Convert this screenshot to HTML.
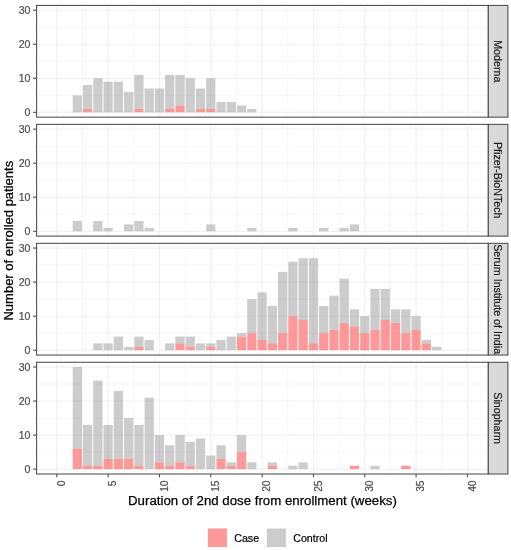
<!DOCTYPE html>
<html lang="en"><head><meta charset="utf-8"><title>Enrolled patients by duration of 2nd dose</title>
<style>html,body{margin:0;padding:0;background:#fff}svg{display:block}</style></head>
<body>
<svg width="511" height="550" viewBox="0 0 511 550" font-family="'Liberation Sans', Arial, sans-serif">
<rect width="511" height="550" fill="#fff"/>
<g>
<rect x="36.6" y="5.4" width="451.7" height="111.75" fill="#fff"/>
<line x1="36.6" x2="488.3" y1="95.28" y2="95.28" stroke="#ebebeb" stroke-width="0.45"/>
<line x1="36.6" x2="488.3" y1="61.23" y2="61.23" stroke="#ebebeb" stroke-width="0.45"/>
<line x1="36.6" x2="488.3" y1="27.18" y2="27.18" stroke="#ebebeb" stroke-width="0.45"/>
<line x1="82.46" x2="82.46" y1="5.4" y2="117.15" stroke="#ebebeb" stroke-width="0.45"/>
<line x1="133.79" x2="133.79" y1="5.4" y2="117.15" stroke="#ebebeb" stroke-width="0.45"/>
<line x1="185.11" x2="185.11" y1="5.4" y2="117.15" stroke="#ebebeb" stroke-width="0.45"/>
<line x1="236.44" x2="236.44" y1="5.4" y2="117.15" stroke="#ebebeb" stroke-width="0.45"/>
<line x1="287.76" x2="287.76" y1="5.4" y2="117.15" stroke="#ebebeb" stroke-width="0.45"/>
<line x1="339.09" x2="339.09" y1="5.4" y2="117.15" stroke="#ebebeb" stroke-width="0.45"/>
<line x1="390.41" x2="390.41" y1="5.4" y2="117.15" stroke="#ebebeb" stroke-width="0.45"/>
<line x1="441.74" x2="441.74" y1="5.4" y2="117.15" stroke="#ebebeb" stroke-width="0.45"/>
<line x1="36.6" x2="488.3" y1="112.3" y2="112.3" stroke="#ebebeb" stroke-width="0.8"/>
<line x1="36.6" x2="488.3" y1="78.25" y2="78.25" stroke="#ebebeb" stroke-width="0.8"/>
<line x1="36.6" x2="488.3" y1="44.2" y2="44.2" stroke="#ebebeb" stroke-width="0.8"/>
<line x1="36.6" x2="488.3" y1="10.15" y2="10.15" stroke="#ebebeb" stroke-width="0.8"/>
<line x1="56.8" x2="56.8" y1="5.4" y2="117.15" stroke="#ebebeb" stroke-width="0.8"/>
<line x1="108.12" x2="108.12" y1="5.4" y2="117.15" stroke="#ebebeb" stroke-width="0.8"/>
<line x1="159.45" x2="159.45" y1="5.4" y2="117.15" stroke="#ebebeb" stroke-width="0.8"/>
<line x1="210.78" x2="210.78" y1="5.4" y2="117.15" stroke="#ebebeb" stroke-width="0.8"/>
<line x1="262.1" x2="262.1" y1="5.4" y2="117.15" stroke="#ebebeb" stroke-width="0.8"/>
<line x1="313.43" x2="313.43" y1="5.4" y2="117.15" stroke="#ebebeb" stroke-width="0.8"/>
<line x1="364.75" x2="364.75" y1="5.4" y2="117.15" stroke="#ebebeb" stroke-width="0.8"/>
<line x1="416.08" x2="416.08" y1="5.4" y2="117.15" stroke="#ebebeb" stroke-width="0.8"/>
<line x1="467.4" x2="467.4" y1="5.4" y2="117.15" stroke="#ebebeb" stroke-width="0.8"/>
<rect x="72.71" y="95.28" width="9.24" height="17.02" fill="#7f7f7f" fill-opacity="0.4"/>
<rect x="82.98" y="108.9" width="9.24" height="3.4" fill="#ff0000" fill-opacity="0.4"/>
<rect x="82.98" y="85.06" width="9.24" height="23.83" fill="#7f7f7f" fill-opacity="0.4"/>
<rect x="93.24" y="78.25" width="9.24" height="34.05" fill="#7f7f7f" fill-opacity="0.4"/>
<rect x="103.51" y="81.66" width="9.24" height="30.64" fill="#7f7f7f" fill-opacity="0.4"/>
<rect x="113.77" y="81.66" width="9.24" height="30.64" fill="#7f7f7f" fill-opacity="0.4"/>
<rect x="124.04" y="91.87" width="9.24" height="20.43" fill="#7f7f7f" fill-opacity="0.4"/>
<rect x="134.3" y="108.9" width="9.24" height="3.4" fill="#ff0000" fill-opacity="0.4"/>
<rect x="134.3" y="74.85" width="9.24" height="34.05" fill="#7f7f7f" fill-opacity="0.4"/>
<rect x="144.57" y="88.47" width="9.24" height="23.83" fill="#7f7f7f" fill-opacity="0.4"/>
<rect x="154.83" y="88.47" width="9.24" height="23.83" fill="#7f7f7f" fill-opacity="0.4"/>
<rect x="165.1" y="108.9" width="9.24" height="3.4" fill="#ff0000" fill-opacity="0.4"/>
<rect x="165.1" y="74.85" width="9.24" height="34.05" fill="#7f7f7f" fill-opacity="0.4"/>
<rect x="175.36" y="105.49" width="9.24" height="6.81" fill="#ff0000" fill-opacity="0.4"/>
<rect x="175.36" y="74.85" width="9.24" height="30.64" fill="#7f7f7f" fill-opacity="0.4"/>
<rect x="185.63" y="78.25" width="9.24" height="34.05" fill="#7f7f7f" fill-opacity="0.4"/>
<rect x="195.89" y="108.9" width="9.24" height="3.4" fill="#ff0000" fill-opacity="0.4"/>
<rect x="195.89" y="88.47" width="9.24" height="20.43" fill="#7f7f7f" fill-opacity="0.4"/>
<rect x="206.16" y="108.9" width="9.24" height="3.4" fill="#ff0000" fill-opacity="0.4"/>
<rect x="206.16" y="78.25" width="9.24" height="30.64" fill="#7f7f7f" fill-opacity="0.4"/>
<rect x="216.42" y="102.09" width="9.24" height="10.21" fill="#7f7f7f" fill-opacity="0.4"/>
<rect x="226.69" y="102.09" width="9.24" height="10.21" fill="#7f7f7f" fill-opacity="0.4"/>
<rect x="236.95" y="105.49" width="9.24" height="6.81" fill="#7f7f7f" fill-opacity="0.4"/>
<rect x="247.22" y="108.9" width="9.24" height="3.4" fill="#7f7f7f" fill-opacity="0.4"/>
<rect x="36.6" y="5.4" width="451.7" height="111.75" fill="none" stroke="#444444" stroke-width="1.0"/>
<rect x="488.3" y="5.4" width="19.6" height="111.75" fill="#d9d9d9" stroke="#444444" stroke-width="1.0"/>
<text transform="translate(494,61.27) rotate(90)" text-anchor="middle" font-size="10.7" fill="#1a1a1a" stroke="#1a1a1a" stroke-width="0.2">Moderna</text>
<line x1="33" x2="36.6" y1="112.3" y2="112.3" stroke="#444444" stroke-width="1.0"/>
<text x="30.4" y="116.1" text-anchor="end" font-size="10.55" fill="#4d4d4d" stroke="#4d4d4d" stroke-width="0.2">0</text>
<line x1="33" x2="36.6" y1="78.25" y2="78.25" stroke="#444444" stroke-width="1.0"/>
<text x="30.4" y="82.05" text-anchor="end" font-size="10.55" fill="#4d4d4d" stroke="#4d4d4d" stroke-width="0.2">10</text>
<line x1="33" x2="36.6" y1="44.2" y2="44.2" stroke="#444444" stroke-width="1.0"/>
<text x="30.4" y="48" text-anchor="end" font-size="10.55" fill="#4d4d4d" stroke="#4d4d4d" stroke-width="0.2">20</text>
<line x1="33" x2="36.6" y1="10.15" y2="10.15" stroke="#444444" stroke-width="1.0"/>
<text x="30.4" y="13.95" text-anchor="end" font-size="10.55" fill="#4d4d4d" stroke="#4d4d4d" stroke-width="0.2">30</text>
</g>
<g>
<rect x="36.6" y="124.35" width="451.7" height="111.75" fill="#fff"/>
<line x1="36.6" x2="488.3" y1="214.22" y2="214.22" stroke="#ebebeb" stroke-width="0.45"/>
<line x1="36.6" x2="488.3" y1="180.18" y2="180.18" stroke="#ebebeb" stroke-width="0.45"/>
<line x1="36.6" x2="488.3" y1="146.12" y2="146.12" stroke="#ebebeb" stroke-width="0.45"/>
<line x1="82.46" x2="82.46" y1="124.35" y2="236.1" stroke="#ebebeb" stroke-width="0.45"/>
<line x1="133.79" x2="133.79" y1="124.35" y2="236.1" stroke="#ebebeb" stroke-width="0.45"/>
<line x1="185.11" x2="185.11" y1="124.35" y2="236.1" stroke="#ebebeb" stroke-width="0.45"/>
<line x1="236.44" x2="236.44" y1="124.35" y2="236.1" stroke="#ebebeb" stroke-width="0.45"/>
<line x1="287.76" x2="287.76" y1="124.35" y2="236.1" stroke="#ebebeb" stroke-width="0.45"/>
<line x1="339.09" x2="339.09" y1="124.35" y2="236.1" stroke="#ebebeb" stroke-width="0.45"/>
<line x1="390.41" x2="390.41" y1="124.35" y2="236.1" stroke="#ebebeb" stroke-width="0.45"/>
<line x1="441.74" x2="441.74" y1="124.35" y2="236.1" stroke="#ebebeb" stroke-width="0.45"/>
<line x1="36.6" x2="488.3" y1="231.25" y2="231.25" stroke="#ebebeb" stroke-width="0.8"/>
<line x1="36.6" x2="488.3" y1="197.2" y2="197.2" stroke="#ebebeb" stroke-width="0.8"/>
<line x1="36.6" x2="488.3" y1="163.15" y2="163.15" stroke="#ebebeb" stroke-width="0.8"/>
<line x1="36.6" x2="488.3" y1="129.1" y2="129.1" stroke="#ebebeb" stroke-width="0.8"/>
<line x1="56.8" x2="56.8" y1="124.35" y2="236.1" stroke="#ebebeb" stroke-width="0.8"/>
<line x1="108.12" x2="108.12" y1="124.35" y2="236.1" stroke="#ebebeb" stroke-width="0.8"/>
<line x1="159.45" x2="159.45" y1="124.35" y2="236.1" stroke="#ebebeb" stroke-width="0.8"/>
<line x1="210.78" x2="210.78" y1="124.35" y2="236.1" stroke="#ebebeb" stroke-width="0.8"/>
<line x1="262.1" x2="262.1" y1="124.35" y2="236.1" stroke="#ebebeb" stroke-width="0.8"/>
<line x1="313.43" x2="313.43" y1="124.35" y2="236.1" stroke="#ebebeb" stroke-width="0.8"/>
<line x1="364.75" x2="364.75" y1="124.35" y2="236.1" stroke="#ebebeb" stroke-width="0.8"/>
<line x1="416.08" x2="416.08" y1="124.35" y2="236.1" stroke="#ebebeb" stroke-width="0.8"/>
<line x1="467.4" x2="467.4" y1="124.35" y2="236.1" stroke="#ebebeb" stroke-width="0.8"/>
<rect x="72.71" y="221.03" width="9.24" height="10.21" fill="#7f7f7f" fill-opacity="0.4"/>
<rect x="93.24" y="221.03" width="9.24" height="10.21" fill="#7f7f7f" fill-opacity="0.4"/>
<rect x="103.51" y="227.84" width="9.24" height="3.4" fill="#7f7f7f" fill-opacity="0.4"/>
<rect x="124.04" y="224.44" width="9.24" height="6.81" fill="#7f7f7f" fill-opacity="0.4"/>
<rect x="134.3" y="221.03" width="9.24" height="10.21" fill="#7f7f7f" fill-opacity="0.4"/>
<rect x="144.57" y="227.84" width="9.24" height="3.4" fill="#7f7f7f" fill-opacity="0.4"/>
<rect x="206.16" y="224.44" width="9.24" height="6.81" fill="#7f7f7f" fill-opacity="0.4"/>
<rect x="247.22" y="227.84" width="9.24" height="3.4" fill="#7f7f7f" fill-opacity="0.4"/>
<rect x="288.28" y="227.84" width="9.24" height="3.4" fill="#7f7f7f" fill-opacity="0.4"/>
<rect x="319.07" y="227.84" width="9.24" height="3.4" fill="#7f7f7f" fill-opacity="0.4"/>
<rect x="339.6" y="227.84" width="9.24" height="3.4" fill="#7f7f7f" fill-opacity="0.4"/>
<rect x="349.87" y="224.44" width="9.24" height="6.81" fill="#7f7f7f" fill-opacity="0.4"/>
<rect x="36.6" y="124.35" width="451.7" height="111.75" fill="none" stroke="#444444" stroke-width="1.0"/>
<rect x="488.3" y="124.35" width="19.6" height="111.75" fill="#d9d9d9" stroke="#444444" stroke-width="1.0"/>
<text transform="translate(494,180.22) rotate(90)" text-anchor="middle" font-size="10.7" fill="#1a1a1a" stroke="#1a1a1a" stroke-width="0.2">Pfizer-BioNTech</text>
<line x1="33" x2="36.6" y1="231.25" y2="231.25" stroke="#444444" stroke-width="1.0"/>
<text x="30.4" y="235.05" text-anchor="end" font-size="10.55" fill="#4d4d4d" stroke="#4d4d4d" stroke-width="0.2">0</text>
<line x1="33" x2="36.6" y1="197.2" y2="197.2" stroke="#444444" stroke-width="1.0"/>
<text x="30.4" y="201" text-anchor="end" font-size="10.55" fill="#4d4d4d" stroke="#4d4d4d" stroke-width="0.2">10</text>
<line x1="33" x2="36.6" y1="163.15" y2="163.15" stroke="#444444" stroke-width="1.0"/>
<text x="30.4" y="166.95" text-anchor="end" font-size="10.55" fill="#4d4d4d" stroke="#4d4d4d" stroke-width="0.2">20</text>
<line x1="33" x2="36.6" y1="129.1" y2="129.1" stroke="#444444" stroke-width="1.0"/>
<text x="30.4" y="132.9" text-anchor="end" font-size="10.55" fill="#4d4d4d" stroke="#4d4d4d" stroke-width="0.2">30</text>
</g>
<g>
<rect x="36.6" y="243.3" width="451.7" height="111.75" fill="#fff"/>
<line x1="36.6" x2="488.3" y1="333.18" y2="333.18" stroke="#ebebeb" stroke-width="0.45"/>
<line x1="36.6" x2="488.3" y1="299.12" y2="299.12" stroke="#ebebeb" stroke-width="0.45"/>
<line x1="36.6" x2="488.3" y1="265.07" y2="265.07" stroke="#ebebeb" stroke-width="0.45"/>
<line x1="82.46" x2="82.46" y1="243.3" y2="355.05" stroke="#ebebeb" stroke-width="0.45"/>
<line x1="133.79" x2="133.79" y1="243.3" y2="355.05" stroke="#ebebeb" stroke-width="0.45"/>
<line x1="185.11" x2="185.11" y1="243.3" y2="355.05" stroke="#ebebeb" stroke-width="0.45"/>
<line x1="236.44" x2="236.44" y1="243.3" y2="355.05" stroke="#ebebeb" stroke-width="0.45"/>
<line x1="287.76" x2="287.76" y1="243.3" y2="355.05" stroke="#ebebeb" stroke-width="0.45"/>
<line x1="339.09" x2="339.09" y1="243.3" y2="355.05" stroke="#ebebeb" stroke-width="0.45"/>
<line x1="390.41" x2="390.41" y1="243.3" y2="355.05" stroke="#ebebeb" stroke-width="0.45"/>
<line x1="441.74" x2="441.74" y1="243.3" y2="355.05" stroke="#ebebeb" stroke-width="0.45"/>
<line x1="36.6" x2="488.3" y1="350.2" y2="350.2" stroke="#ebebeb" stroke-width="0.8"/>
<line x1="36.6" x2="488.3" y1="316.15" y2="316.15" stroke="#ebebeb" stroke-width="0.8"/>
<line x1="36.6" x2="488.3" y1="282.1" y2="282.1" stroke="#ebebeb" stroke-width="0.8"/>
<line x1="36.6" x2="488.3" y1="248.05" y2="248.05" stroke="#ebebeb" stroke-width="0.8"/>
<line x1="56.8" x2="56.8" y1="243.3" y2="355.05" stroke="#ebebeb" stroke-width="0.8"/>
<line x1="108.12" x2="108.12" y1="243.3" y2="355.05" stroke="#ebebeb" stroke-width="0.8"/>
<line x1="159.45" x2="159.45" y1="243.3" y2="355.05" stroke="#ebebeb" stroke-width="0.8"/>
<line x1="210.78" x2="210.78" y1="243.3" y2="355.05" stroke="#ebebeb" stroke-width="0.8"/>
<line x1="262.1" x2="262.1" y1="243.3" y2="355.05" stroke="#ebebeb" stroke-width="0.8"/>
<line x1="313.43" x2="313.43" y1="243.3" y2="355.05" stroke="#ebebeb" stroke-width="0.8"/>
<line x1="364.75" x2="364.75" y1="243.3" y2="355.05" stroke="#ebebeb" stroke-width="0.8"/>
<line x1="416.08" x2="416.08" y1="243.3" y2="355.05" stroke="#ebebeb" stroke-width="0.8"/>
<line x1="467.4" x2="467.4" y1="243.3" y2="355.05" stroke="#ebebeb" stroke-width="0.8"/>
<rect x="93.24" y="343.39" width="9.24" height="6.81" fill="#7f7f7f" fill-opacity="0.4"/>
<rect x="103.51" y="343.39" width="9.24" height="6.81" fill="#7f7f7f" fill-opacity="0.4"/>
<rect x="113.77" y="336.58" width="9.24" height="13.62" fill="#7f7f7f" fill-opacity="0.4"/>
<rect x="124.04" y="346.8" width="9.24" height="3.4" fill="#7f7f7f" fill-opacity="0.4"/>
<rect x="134.3" y="346.8" width="9.24" height="3.4" fill="#ff0000" fill-opacity="0.4"/>
<rect x="134.3" y="336.58" width="9.24" height="10.21" fill="#7f7f7f" fill-opacity="0.4"/>
<rect x="144.57" y="339.99" width="9.24" height="10.21" fill="#7f7f7f" fill-opacity="0.4"/>
<rect x="165.1" y="343.39" width="9.24" height="6.81" fill="#7f7f7f" fill-opacity="0.4"/>
<rect x="175.36" y="343.39" width="9.24" height="6.81" fill="#ff0000" fill-opacity="0.4"/>
<rect x="175.36" y="336.58" width="9.24" height="6.81" fill="#7f7f7f" fill-opacity="0.4"/>
<rect x="185.63" y="346.8" width="9.24" height="3.4" fill="#ff0000" fill-opacity="0.4"/>
<rect x="185.63" y="336.58" width="9.24" height="10.21" fill="#7f7f7f" fill-opacity="0.4"/>
<rect x="195.89" y="343.39" width="9.24" height="6.81" fill="#7f7f7f" fill-opacity="0.4"/>
<rect x="206.16" y="346.8" width="9.24" height="3.4" fill="#ff0000" fill-opacity="0.4"/>
<rect x="206.16" y="343.39" width="9.24" height="3.4" fill="#7f7f7f" fill-opacity="0.4"/>
<rect x="216.42" y="339.99" width="9.24" height="10.21" fill="#7f7f7f" fill-opacity="0.4"/>
<rect x="226.69" y="336.58" width="9.24" height="13.62" fill="#7f7f7f" fill-opacity="0.4"/>
<rect x="236.95" y="336.58" width="9.24" height="13.62" fill="#ff0000" fill-opacity="0.4"/>
<rect x="236.95" y="333.18" width="9.24" height="3.4" fill="#7f7f7f" fill-opacity="0.4"/>
<rect x="247.22" y="333.18" width="9.24" height="17.02" fill="#ff0000" fill-opacity="0.4"/>
<rect x="247.22" y="299.12" width="9.24" height="34.05" fill="#7f7f7f" fill-opacity="0.4"/>
<rect x="257.48" y="339.99" width="9.24" height="10.21" fill="#ff0000" fill-opacity="0.4"/>
<rect x="257.48" y="292.31" width="9.24" height="47.67" fill="#7f7f7f" fill-opacity="0.4"/>
<rect x="267.75" y="343.39" width="9.24" height="6.81" fill="#ff0000" fill-opacity="0.4"/>
<rect x="267.75" y="305.94" width="9.24" height="37.45" fill="#7f7f7f" fill-opacity="0.4"/>
<rect x="278.01" y="333.18" width="9.24" height="17.02" fill="#ff0000" fill-opacity="0.4"/>
<rect x="278.01" y="271.88" width="9.24" height="61.29" fill="#7f7f7f" fill-opacity="0.4"/>
<rect x="288.28" y="316.15" width="9.24" height="34.05" fill="#ff0000" fill-opacity="0.4"/>
<rect x="288.28" y="261.67" width="9.24" height="54.48" fill="#7f7f7f" fill-opacity="0.4"/>
<rect x="298.54" y="319.56" width="9.24" height="30.64" fill="#ff0000" fill-opacity="0.4"/>
<rect x="298.54" y="258.26" width="9.24" height="61.29" fill="#7f7f7f" fill-opacity="0.4"/>
<rect x="308.81" y="343.39" width="9.24" height="6.81" fill="#ff0000" fill-opacity="0.4"/>
<rect x="308.81" y="258.26" width="9.24" height="85.12" fill="#7f7f7f" fill-opacity="0.4"/>
<rect x="319.07" y="333.18" width="9.24" height="17.02" fill="#ff0000" fill-opacity="0.4"/>
<rect x="319.07" y="305.94" width="9.24" height="27.24" fill="#7f7f7f" fill-opacity="0.4"/>
<rect x="329.34" y="329.77" width="9.24" height="20.43" fill="#ff0000" fill-opacity="0.4"/>
<rect x="329.34" y="295.72" width="9.24" height="34.05" fill="#7f7f7f" fill-opacity="0.4"/>
<rect x="339.6" y="322.96" width="9.24" height="27.24" fill="#ff0000" fill-opacity="0.4"/>
<rect x="339.6" y="278.69" width="9.24" height="44.27" fill="#7f7f7f" fill-opacity="0.4"/>
<rect x="349.87" y="326.37" width="9.24" height="23.83" fill="#ff0000" fill-opacity="0.4"/>
<rect x="349.87" y="309.34" width="9.24" height="17.02" fill="#7f7f7f" fill-opacity="0.4"/>
<rect x="360.13" y="333.18" width="9.24" height="17.02" fill="#ff0000" fill-opacity="0.4"/>
<rect x="360.13" y="316.15" width="9.24" height="17.02" fill="#7f7f7f" fill-opacity="0.4"/>
<rect x="370.4" y="329.77" width="9.24" height="20.43" fill="#ff0000" fill-opacity="0.4"/>
<rect x="370.4" y="288.91" width="9.24" height="40.86" fill="#7f7f7f" fill-opacity="0.4"/>
<rect x="380.66" y="319.56" width="9.24" height="30.64" fill="#ff0000" fill-opacity="0.4"/>
<rect x="380.66" y="288.91" width="9.24" height="30.64" fill="#7f7f7f" fill-opacity="0.4"/>
<rect x="390.93" y="322.96" width="9.24" height="27.24" fill="#ff0000" fill-opacity="0.4"/>
<rect x="390.93" y="309.34" width="9.24" height="13.62" fill="#7f7f7f" fill-opacity="0.4"/>
<rect x="401.19" y="333.18" width="9.24" height="17.02" fill="#ff0000" fill-opacity="0.4"/>
<rect x="401.19" y="309.34" width="9.24" height="23.83" fill="#7f7f7f" fill-opacity="0.4"/>
<rect x="411.46" y="329.77" width="9.24" height="20.43" fill="#ff0000" fill-opacity="0.4"/>
<rect x="411.46" y="316.15" width="9.24" height="13.62" fill="#7f7f7f" fill-opacity="0.4"/>
<rect x="421.72" y="343.39" width="9.24" height="6.81" fill="#ff0000" fill-opacity="0.4"/>
<rect x="421.72" y="339.99" width="9.24" height="3.4" fill="#7f7f7f" fill-opacity="0.4"/>
<rect x="431.99" y="346.8" width="9.24" height="3.4" fill="#7f7f7f" fill-opacity="0.4"/>
<rect x="36.6" y="243.3" width="451.7" height="111.75" fill="none" stroke="#444444" stroke-width="1.0"/>
<rect x="488.3" y="243.3" width="19.6" height="111.75" fill="#d9d9d9" stroke="#444444" stroke-width="1.0"/>
<text transform="translate(494,299.18) rotate(90)" text-anchor="middle" font-size="10.7" fill="#1a1a1a" stroke="#1a1a1a" stroke-width="0.2">Serum Institute of India</text>
<line x1="33" x2="36.6" y1="350.2" y2="350.2" stroke="#444444" stroke-width="1.0"/>
<text x="30.4" y="354" text-anchor="end" font-size="10.55" fill="#4d4d4d" stroke="#4d4d4d" stroke-width="0.2">0</text>
<line x1="33" x2="36.6" y1="316.15" y2="316.15" stroke="#444444" stroke-width="1.0"/>
<text x="30.4" y="319.95" text-anchor="end" font-size="10.55" fill="#4d4d4d" stroke="#4d4d4d" stroke-width="0.2">10</text>
<line x1="33" x2="36.6" y1="282.1" y2="282.1" stroke="#444444" stroke-width="1.0"/>
<text x="30.4" y="285.9" text-anchor="end" font-size="10.55" fill="#4d4d4d" stroke="#4d4d4d" stroke-width="0.2">20</text>
<line x1="33" x2="36.6" y1="248.05" y2="248.05" stroke="#444444" stroke-width="1.0"/>
<text x="30.4" y="251.85" text-anchor="end" font-size="10.55" fill="#4d4d4d" stroke="#4d4d4d" stroke-width="0.2">30</text>
</g>
<g>
<rect x="36.6" y="362.25" width="451.7" height="111.75" fill="#fff"/>
<line x1="36.6" x2="488.3" y1="452.12" y2="452.12" stroke="#ebebeb" stroke-width="0.45"/>
<line x1="36.6" x2="488.3" y1="418.07" y2="418.07" stroke="#ebebeb" stroke-width="0.45"/>
<line x1="36.6" x2="488.3" y1="384.02" y2="384.02" stroke="#ebebeb" stroke-width="0.45"/>
<line x1="82.46" x2="82.46" y1="362.25" y2="474" stroke="#ebebeb" stroke-width="0.45"/>
<line x1="133.79" x2="133.79" y1="362.25" y2="474" stroke="#ebebeb" stroke-width="0.45"/>
<line x1="185.11" x2="185.11" y1="362.25" y2="474" stroke="#ebebeb" stroke-width="0.45"/>
<line x1="236.44" x2="236.44" y1="362.25" y2="474" stroke="#ebebeb" stroke-width="0.45"/>
<line x1="287.76" x2="287.76" y1="362.25" y2="474" stroke="#ebebeb" stroke-width="0.45"/>
<line x1="339.09" x2="339.09" y1="362.25" y2="474" stroke="#ebebeb" stroke-width="0.45"/>
<line x1="390.41" x2="390.41" y1="362.25" y2="474" stroke="#ebebeb" stroke-width="0.45"/>
<line x1="441.74" x2="441.74" y1="362.25" y2="474" stroke="#ebebeb" stroke-width="0.45"/>
<line x1="36.6" x2="488.3" y1="469.15" y2="469.15" stroke="#ebebeb" stroke-width="0.8"/>
<line x1="36.6" x2="488.3" y1="435.1" y2="435.1" stroke="#ebebeb" stroke-width="0.8"/>
<line x1="36.6" x2="488.3" y1="401.05" y2="401.05" stroke="#ebebeb" stroke-width="0.8"/>
<line x1="36.6" x2="488.3" y1="367" y2="367" stroke="#ebebeb" stroke-width="0.8"/>
<line x1="56.8" x2="56.8" y1="362.25" y2="474" stroke="#ebebeb" stroke-width="0.8"/>
<line x1="108.12" x2="108.12" y1="362.25" y2="474" stroke="#ebebeb" stroke-width="0.8"/>
<line x1="159.45" x2="159.45" y1="362.25" y2="474" stroke="#ebebeb" stroke-width="0.8"/>
<line x1="210.78" x2="210.78" y1="362.25" y2="474" stroke="#ebebeb" stroke-width="0.8"/>
<line x1="262.1" x2="262.1" y1="362.25" y2="474" stroke="#ebebeb" stroke-width="0.8"/>
<line x1="313.43" x2="313.43" y1="362.25" y2="474" stroke="#ebebeb" stroke-width="0.8"/>
<line x1="364.75" x2="364.75" y1="362.25" y2="474" stroke="#ebebeb" stroke-width="0.8"/>
<line x1="416.08" x2="416.08" y1="362.25" y2="474" stroke="#ebebeb" stroke-width="0.8"/>
<line x1="467.4" x2="467.4" y1="362.25" y2="474" stroke="#ebebeb" stroke-width="0.8"/>
<rect x="72.71" y="448.72" width="9.24" height="20.43" fill="#ff0000" fill-opacity="0.4"/>
<rect x="72.71" y="367" width="9.24" height="81.72" fill="#7f7f7f" fill-opacity="0.4"/>
<rect x="82.98" y="465.75" width="9.24" height="3.4" fill="#ff0000" fill-opacity="0.4"/>
<rect x="82.98" y="424.88" width="9.24" height="40.86" fill="#7f7f7f" fill-opacity="0.4"/>
<rect x="93.24" y="465.75" width="9.24" height="3.4" fill="#ff0000" fill-opacity="0.4"/>
<rect x="93.24" y="380.62" width="9.24" height="85.12" fill="#7f7f7f" fill-opacity="0.4"/>
<rect x="103.51" y="458.94" width="9.24" height="10.21" fill="#ff0000" fill-opacity="0.4"/>
<rect x="103.51" y="424.88" width="9.24" height="34.05" fill="#7f7f7f" fill-opacity="0.4"/>
<rect x="113.77" y="458.94" width="9.24" height="10.21" fill="#ff0000" fill-opacity="0.4"/>
<rect x="113.77" y="390.83" width="9.24" height="68.1" fill="#7f7f7f" fill-opacity="0.4"/>
<rect x="124.04" y="458.94" width="9.24" height="10.21" fill="#ff0000" fill-opacity="0.4"/>
<rect x="124.04" y="418.07" width="9.24" height="40.86" fill="#7f7f7f" fill-opacity="0.4"/>
<rect x="134.3" y="465.75" width="9.24" height="3.4" fill="#ff0000" fill-opacity="0.4"/>
<rect x="134.3" y="424.88" width="9.24" height="40.86" fill="#7f7f7f" fill-opacity="0.4"/>
<rect x="144.57" y="397.64" width="9.24" height="71.5" fill="#7f7f7f" fill-opacity="0.4"/>
<rect x="154.83" y="462.34" width="9.24" height="6.81" fill="#ff0000" fill-opacity="0.4"/>
<rect x="154.83" y="435.1" width="9.24" height="27.24" fill="#7f7f7f" fill-opacity="0.4"/>
<rect x="165.1" y="465.75" width="9.24" height="3.4" fill="#ff0000" fill-opacity="0.4"/>
<rect x="165.1" y="445.31" width="9.24" height="20.43" fill="#7f7f7f" fill-opacity="0.4"/>
<rect x="175.36" y="462.34" width="9.24" height="6.81" fill="#ff0000" fill-opacity="0.4"/>
<rect x="175.36" y="435.1" width="9.24" height="27.24" fill="#7f7f7f" fill-opacity="0.4"/>
<rect x="185.63" y="465.75" width="9.24" height="3.4" fill="#ff0000" fill-opacity="0.4"/>
<rect x="185.63" y="441.91" width="9.24" height="23.83" fill="#7f7f7f" fill-opacity="0.4"/>
<rect x="195.89" y="438.5" width="9.24" height="30.64" fill="#7f7f7f" fill-opacity="0.4"/>
<rect x="206.16" y="455.53" width="9.24" height="13.62" fill="#7f7f7f" fill-opacity="0.4"/>
<rect x="216.42" y="458.94" width="9.24" height="10.21" fill="#ff0000" fill-opacity="0.4"/>
<rect x="216.42" y="445.31" width="9.24" height="13.62" fill="#7f7f7f" fill-opacity="0.4"/>
<rect x="226.69" y="465.75" width="9.24" height="3.4" fill="#ff0000" fill-opacity="0.4"/>
<rect x="226.69" y="462.34" width="9.24" height="3.4" fill="#7f7f7f" fill-opacity="0.4"/>
<rect x="236.95" y="452.12" width="9.24" height="17.02" fill="#ff0000" fill-opacity="0.4"/>
<rect x="236.95" y="435.1" width="9.24" height="17.02" fill="#7f7f7f" fill-opacity="0.4"/>
<rect x="247.22" y="462.34" width="9.24" height="6.81" fill="#7f7f7f" fill-opacity="0.4"/>
<rect x="267.75" y="465.75" width="9.24" height="3.4" fill="#ff0000" fill-opacity="0.4"/>
<rect x="267.75" y="462.34" width="9.24" height="3.4" fill="#7f7f7f" fill-opacity="0.4"/>
<rect x="288.28" y="465.75" width="9.24" height="3.4" fill="#7f7f7f" fill-opacity="0.4"/>
<rect x="298.54" y="462.34" width="9.24" height="6.81" fill="#7f7f7f" fill-opacity="0.4"/>
<rect x="349.87" y="465.75" width="9.24" height="3.4" fill="#ff0000" fill-opacity="0.4"/>
<rect x="370.4" y="465.75" width="9.24" height="3.4" fill="#7f7f7f" fill-opacity="0.4"/>
<rect x="401.19" y="465.75" width="9.24" height="3.4" fill="#ff0000" fill-opacity="0.4"/>
<rect x="36.6" y="362.25" width="451.7" height="111.75" fill="none" stroke="#444444" stroke-width="1.0"/>
<rect x="488.3" y="362.25" width="19.6" height="111.75" fill="#d9d9d9" stroke="#444444" stroke-width="1.0"/>
<text transform="translate(494,418.12) rotate(90)" text-anchor="middle" font-size="10.7" fill="#1a1a1a" stroke="#1a1a1a" stroke-width="0.2">Sinopharm</text>
<line x1="33" x2="36.6" y1="469.15" y2="469.15" stroke="#444444" stroke-width="1.0"/>
<text x="30.4" y="472.95" text-anchor="end" font-size="10.55" fill="#4d4d4d" stroke="#4d4d4d" stroke-width="0.2">0</text>
<line x1="33" x2="36.6" y1="435.1" y2="435.1" stroke="#444444" stroke-width="1.0"/>
<text x="30.4" y="438.9" text-anchor="end" font-size="10.55" fill="#4d4d4d" stroke="#4d4d4d" stroke-width="0.2">10</text>
<line x1="33" x2="36.6" y1="401.05" y2="401.05" stroke="#444444" stroke-width="1.0"/>
<text x="30.4" y="404.85" text-anchor="end" font-size="10.55" fill="#4d4d4d" stroke="#4d4d4d" stroke-width="0.2">20</text>
<line x1="33" x2="36.6" y1="367" y2="367" stroke="#444444" stroke-width="1.0"/>
<text x="30.4" y="370.8" text-anchor="end" font-size="10.55" fill="#4d4d4d" stroke="#4d4d4d" stroke-width="0.2">30</text>
</g>
<line x1="56.8" x2="56.8" y1="474" y2="477.3" stroke="#444444" stroke-width="1.0"/>
<text transform="translate(64.9,480.4) rotate(-90)" text-anchor="end" font-size="10.3" fill="#4d4d4d" stroke="#4d4d4d" stroke-width="0.2">0</text>
<line x1="108.12" x2="108.12" y1="474" y2="477.3" stroke="#444444" stroke-width="1.0"/>
<text transform="translate(116.22,480.4) rotate(-90)" text-anchor="end" font-size="10.3" fill="#4d4d4d" stroke="#4d4d4d" stroke-width="0.2">5</text>
<line x1="159.45" x2="159.45" y1="474" y2="477.3" stroke="#444444" stroke-width="1.0"/>
<text transform="translate(167.55,480.4) rotate(-90)" text-anchor="end" font-size="10.3" fill="#4d4d4d" stroke="#4d4d4d" stroke-width="0.2">10</text>
<line x1="210.78" x2="210.78" y1="474" y2="477.3" stroke="#444444" stroke-width="1.0"/>
<text transform="translate(218.88,480.4) rotate(-90)" text-anchor="end" font-size="10.3" fill="#4d4d4d" stroke="#4d4d4d" stroke-width="0.2">15</text>
<line x1="262.1" x2="262.1" y1="474" y2="477.3" stroke="#444444" stroke-width="1.0"/>
<text transform="translate(270.2,480.4) rotate(-90)" text-anchor="end" font-size="10.3" fill="#4d4d4d" stroke="#4d4d4d" stroke-width="0.2">20</text>
<line x1="313.43" x2="313.43" y1="474" y2="477.3" stroke="#444444" stroke-width="1.0"/>
<text transform="translate(321.53,480.4) rotate(-90)" text-anchor="end" font-size="10.3" fill="#4d4d4d" stroke="#4d4d4d" stroke-width="0.2">25</text>
<line x1="364.75" x2="364.75" y1="474" y2="477.3" stroke="#444444" stroke-width="1.0"/>
<text transform="translate(372.85,480.4) rotate(-90)" text-anchor="end" font-size="10.3" fill="#4d4d4d" stroke="#4d4d4d" stroke-width="0.2">30</text>
<line x1="416.08" x2="416.08" y1="474" y2="477.3" stroke="#444444" stroke-width="1.0"/>
<text transform="translate(424.18,480.4) rotate(-90)" text-anchor="end" font-size="10.3" fill="#4d4d4d" stroke="#4d4d4d" stroke-width="0.2">35</text>
<line x1="467.4" x2="467.4" y1="474" y2="477.3" stroke="#444444" stroke-width="1.0"/>
<text transform="translate(475.5,480.4) rotate(-90)" text-anchor="end" font-size="10.3" fill="#4d4d4d" stroke="#4d4d4d" stroke-width="0.2">40</text>
<text x="262.45" y="505.3" text-anchor="middle" font-size="13.25" fill="#000" stroke="#000" stroke-width="0.25">Duration of 2nd dose from enrollment (weeks)</text>
<text transform="translate(12.65,240.7) rotate(-90)" text-anchor="middle" font-size="13" fill="#000" stroke="#000" stroke-width="0.25">Number of enrolled patients</text>
<rect x="207.9" y="528.5" width="19.1" height="18.6" fill="#ff0000" fill-opacity="0.4"/>
<rect x="266.8" y="528.5" width="19.1" height="18.6" fill="#7f7f7f" fill-opacity="0.4"/>
<text x="234.2" y="541.8" font-size="10.7" fill="#000" stroke="#000" stroke-width="0.2">Case</text>
<text x="293.2" y="541.8" font-size="10.7" fill="#000" stroke="#000" stroke-width="0.2">Control</text>
</svg>
</body></html>
